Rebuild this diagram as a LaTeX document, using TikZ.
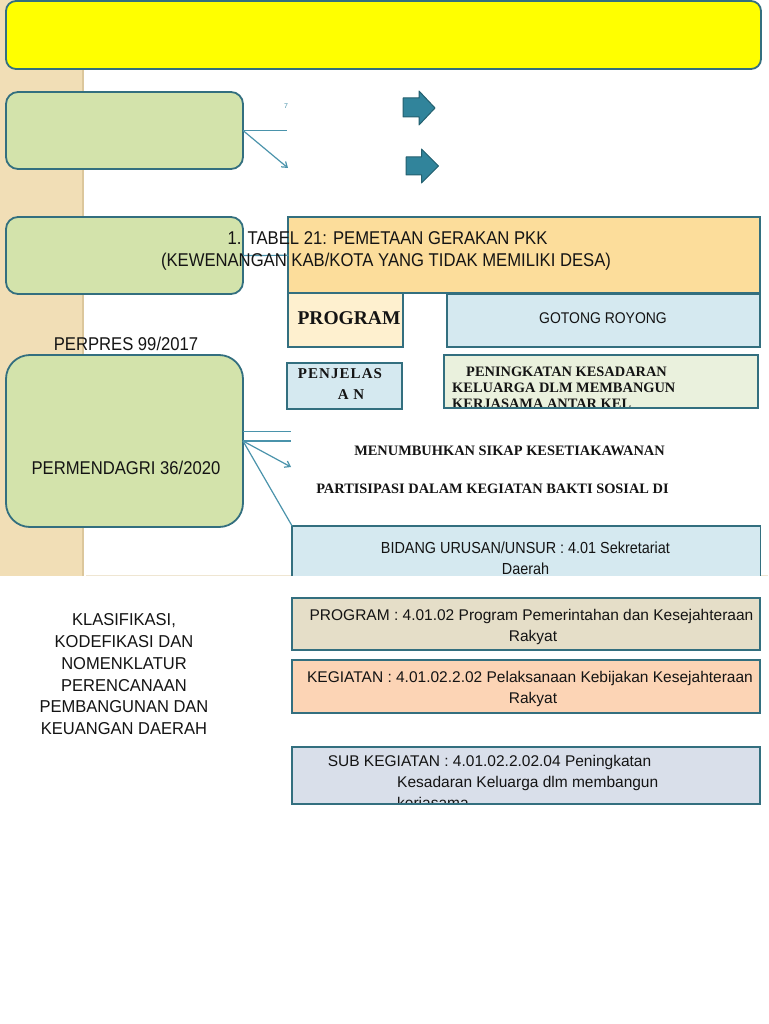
\documentclass[tikz,border=0pt]{standalone}
\usepackage{fontspec}
\setmainfont{Liberation Sans}
\newfontfamily\condA{Liberation Sans}[FakeStretch=0.9]
\newfontfamily\condB{Liberation Sans}[FakeStretch=0.96]
\newfontfamily\serB{Liberation Serif}
\newfontfamily\serLS{Liberation Serif}[LetterSpace=7]
\usetikzlibrary{arrows.meta}
\definecolor{bordc}{HTML}{336F7F}
\definecolor{greenc}{HTML}{D3E3AB}
\definecolor{yellc}{HTML}{FFFF00}
\definecolor{orangec}{HTML}{FCDD9B}
\definecolor{creamc}{HTML}{FEF0CF}
\definecolor{bluec}{HTML}{D5E9F0}
\definecolor{lgreenc}{HTML}{EAF1DD}
\definecolor{tanc}{HTML}{E5DEC8}
\definecolor{peachc}{HTML}{FCD4B5}
\definecolor{lavc}{HTML}{D9DFEA}
\definecolor{connc}{HTML}{4A93AB}
\definecolor{arrowc}{HTML}{31849B}
\definecolor{arrowd}{HTML}{24606F}
\definecolor{stripc}{HTML}{F1DEB6}
\definecolor{stripe}{HTML}{DCC79C}
\definecolor{slideline}{HTML}{EFE6D2}
\definecolor{txtc}{HTML}{141414}
\begin{document}
\begin{tikzpicture}[x=1pt,y=-1pt,
  box/.style={draw=bordc, line width=1.8pt, inner sep=0pt, outer sep=0pt},
  gbox/.style={box, fill=greenc, rounded corners=12pt},
  conn/.style={draw=connc, line width=1.2pt},
  arr/.style={-{Straight Barb[length=5pt,width=7pt]}},
  blockarrow/.style={fill=arrowc, draw=arrowd, line width=1pt, line join=round},
  lbl/.style={anchor=base, inner sep=0pt, text=txtc},
  ttl/.style={lbl, font=\condA\fontsize{18.5}{22}\selectfont},
  sans/.style={lbl, font=\condA\fontsize{16}{19}\selectfont},
  low/.style={lbl, font=\fontsize{15.5}{19}\selectfont},
  kla/.style={lbl, font=\condB\fontsize{17.2}{21}\selectfont},
  serb/.style={lbl, font=\serB\bfseries\fontsize{14.4}{17}\selectfont},
]
\useasboundingbox (0,0) rectangle (768,1024);
\fill[white] (0,0) rectangle (768,1024);
% slide background strip
\fill[stripc] (0,0) rectangle (83.5,575.5);
\draw[stripe, line width=1.5pt] (83,0) -- (83,575.5);
\draw[slideline, line width=1.5pt] (86,575.5) -- (768,575.5);

% title bar
\node[box, fill=yellc, rounded corners=10pt, minimum width=755, minimum height=68] (title) at (383.5,35) {};

% green boxes
\node[gbox, minimum width=237, minimum height=77] (g1) at (124.5,130.5) {};
\node[gbox, minimum width=237, minimum height=77] (g2) at (124.5,255.5) {};
\node[gbox, rounded corners=24pt, minimum width=237, minimum height=172] (g3) at (124.5,441) {};

% connectors of g1
\coordinate (c1a) at (287,130.5);
\coordinate (c1b) at (288,168);
\draw[conn] (g1.east) -- (c1a);
\draw[conn, arr] (g1.east) -- (c1b);
\node[inner sep=0pt, text=connc, font=\fontsize{7}{8}\selectfont] (seven) at (286,106) {7};

% block arrows
\draw[blockarrow] (403,98) -- ++(16,0) -- ++(0,-7) -- ++(16,17) -- ++(-16,17) -- ++(0,-8) -- ++(-16,0) -- cycle;
\draw[blockarrow] (406,157) -- ++(15.5,0) -- ++(0,-8) -- ++(17,17) -- ++(-17,17) -- ++(0,-8) -- ++(-15.5,0) -- cycle;

% table header
\node[box, fill=orangec, minimum width=471.7, minimum height=76] (tb) at (524.2,255.3) {};
\draw[conn] (g2.east) -- (tb.west);
\node[ttl] (tt1) at (387.5,244.6) {1. TABEL 21: PEMETAAN GERAKAN PKK};
\node[ttl] (tt2) at (386,266.6) {(KEWENANGAN KAB/KOTA YANG TIDAK MEMILIKI DESA)};

% program row
\node[box, fill=creamc, minimum width=115, minimum height=53.5] (prog) at (345.8,320) {};
\node[lbl, font=\serB\bfseries\fontsize{19.5}{22}\selectfont] (progt) at (349,324.5) {PROGRAM};
\node[box, fill=bluec, minimum width=313.3, minimum height=52.4] (got) at (603.3,320.5) {};
\node[lbl, font=\condA\fontsize{15.5}{18}\selectfont] (gott) at (603,323.5) {GOTONG ROYONG};

% penjelasan row
\node[box, fill=bluec, minimum width=115, minimum height=45.7] (penj) at (344.8,386.2) {};
\node[lbl, font=\serLS\bfseries\fontsize{15}{18}\selectfont] (penj1) at (340,378) {PENJELAS};
\node[lbl, font=\serLS\bfseries\fontsize{15}{18}\selectfont] (penj2) at (351,399) {A N};
\node[box, fill=lgreenc, minimum width=314, minimum height=53] (pen) at (601.3,381.8) {};
\begin{scope}
  \clip (pen.south west) rectangle (pen.north east);
  \node[serb, anchor=base west] (pen1) at (466,376.8) {PENINGKATAN KESADARAN};
  \node[serb, anchor=base west] (pen2) at (452,392.8) {KELUARGA DLM MEMBANGUN};
  \node[serb, anchor=base west] (pen3) at (452,408.8) {KERJASAMA ANTAR KEL};
\end{scope}
\draw[draw=bordc, line width=1.8pt] (pen.south west) rectangle (pen.north east);

% perpres / permendagri
\node[ttl] (perpres) at (126,350.3) {PERPRES 99/2017};
\node[ttl] (permen) at (126,474) {PERMENDAGRI 36/2020};

% explanations
\node[serb] (menu) at (509.5,455.5) {MENUMBUHKAN SIKAP KESETIAKAWANAN};
\node[serb] (part) at (492.5,493.5) {PARTISIPASI DALAM KEGIATAN BAKTI SOSIAL DI};

% bidang box (cut at slide edge)
\node[inner sep=0pt, fill=bluec, minimum width=468, minimum height=49.5] (bid) at (526.2,550.75) {};
\draw[draw=bordc, line width=1.8pt] (bid.south west) -- (bid.north west) -- (bid.north east) -- (bid.south east);
\node[sans] (bid1) at (525.4,553) {BIDANG URUSAN/UNSUR : 4.01 Sekretariat};
\node[sans] (bid2) at (525.5,574) {Daerah};

% connectors of g3
\coordinate (h1) at (291,431.5);
\coordinate (h2) at (291,441);
\coordinate (a3) at (291,467);
\draw[conn] ([yshift=9.5pt]g3.east) -- (h1);
\draw[conn] (g3.east) -- (h2);
\draw[conn, arr] (g3.east) -- (a3);
\draw[conn] (g3.east) -- (bid.north west);

% lower section
\node[kla] (k1) at (124,625.2) {KLASIFIKASI,};
\node[kla] (k2) at (124,647) {KODEFIKASI DAN};
\node[kla] (k3) at (124,669.2) {NOMENKLATUR};
\node[kla] (k4) at (124,691) {PERENCANAAN};
\node[kla] (k5) at (124,712.9) {PEMBANGUNAN DAN};
\node[kla] (k6) at (124,734.9) {KEUANGAN DAERAH};

\node[box, fill=tanc, minimum width=468, minimum height=52] (lp) at (526,624) {};
\node[low] (lp1) at (531.5,620.2) {PROGRAM : 4.01.02 Program Pemerintahan dan Kesejahteraan};
\node[low] (lp2) at (533,641.9) {Rakyat};

\node[box, fill=peachc, minimum width=468, minimum height=53] (lk) at (526,686.5) {};
\node[low] (lk1) at (530,682.2) {KEGIATAN : 4.01.02.2.02 Pelaksanaan Kebijakan Kesejahteraan};
\node[low] (lk2) at (533,703.9) {Rakyat};

\node[box, fill=lavc, minimum width=468, minimum height=57] (ls) at (526,775.5) {};
\begin{scope}
  \clip (ls.south west) rectangle (ls.north east);
  \node[low] (ls1) at (489.5,766.5) {SUB KEGIATAN : 4.01.02.2.02.04 Peningkatan};
  \node[low, anchor=base west] (ls2) at (397,787.5) {Kesadaran Keluarga dlm membangun};
  \node[low, anchor=base west] (ls3) at (397,808.5) {kerjasama};
\end{scope}
\draw[draw=bordc, line width=1.8pt] (ls.south west) rectangle (ls.north east);
\end{tikzpicture}
\end{document}
